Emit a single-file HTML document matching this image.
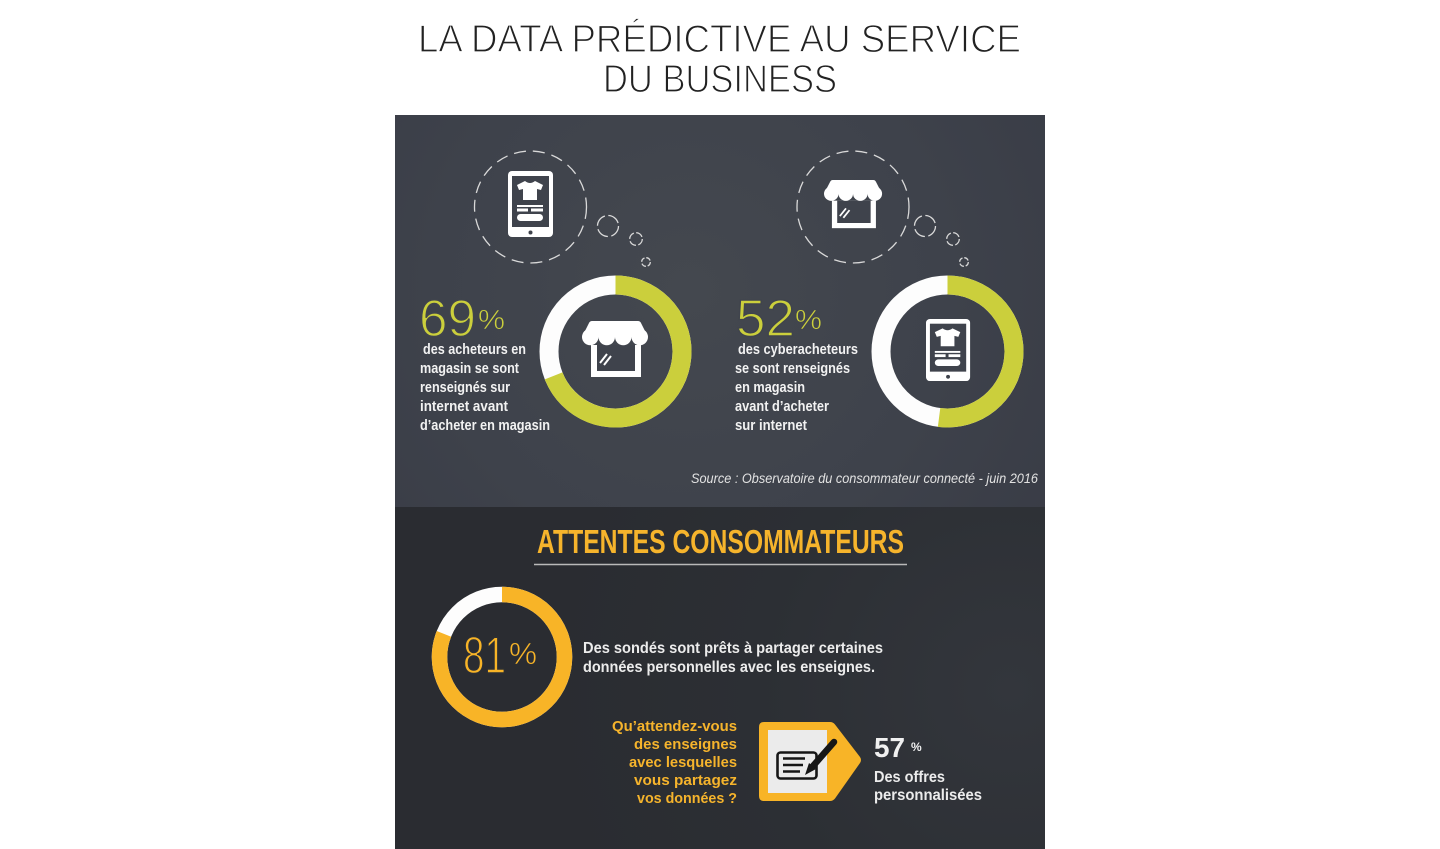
<!DOCTYPE html>
<html>
<head>
<meta charset="utf-8">
<style>
  html,body{margin:0;padding:0;background:#ffffff;}
  body{width:1440px;height:849px;overflow:hidden;}
  svg{display:block;}
  .b{font-family:"Liberation Sans",sans-serif;font-weight:bold;}
  .r{font-family:"Liberation Sans",sans-serif;font-weight:normal;}
</style>
</head>
<body>
<svg width="1440" height="849" viewBox="0 0 1440 849" xmlns="http://www.w3.org/2000/svg">
  <defs>
    <radialGradient id="gt" cx="690" cy="290" r="430" gradientUnits="userSpaceOnUse">
      <stop offset="0" stop-color="#44484f"/>
      <stop offset="0.6" stop-color="#3e424b"/>
      <stop offset="1" stop-color="#393c46"/>
    </radialGradient>
    <radialGradient id="gb" cx="1010" cy="690" r="460" gradientUnits="userSpaceOnUse">
      <stop offset="0" stop-color="#33363c"/>
      <stop offset="0.55" stop-color="#2c2f34"/>
      <stop offset="1" stop-color="#2a2c31"/>
    </radialGradient>

    <g id="tablet">
      <rect x="0" y="0" width="45" height="66" rx="4" fill="#ffffff"/>
      <rect x="4" y="5" width="37" height="51" fill="#3f434c"/>
      <circle cx="22.5" cy="61.5" r="2" fill="#3f434c"/>
      <path d="M17,10 L9,14 L11,19 L15,18 L15,29 L29,29 L29,18 L33,19 L35,14 L27,10 Q22,14 17,10 Z" fill="#ffffff"/>
      <rect x="9" y="34" width="26" height="2" fill="#ffffff"/>
      <rect x="9" y="37.5" width="11" height="3" fill="#ffffff"/>
      <rect x="23" y="37.5" width="12" height="3" fill="#ffffff"/>
      <rect x="9" y="43" width="26" height="7" rx="3.5" fill="#ffffff"/>
    </g>

    <g id="store">
      <rect x="9" y="24" width="50" height="32" fill="#ffffff"/>
      <rect x="15" y="24" width="38" height="26" fill="#3f434c"/>
      <path d="M10,0 L56,0 Q58,0 59,2 L66,16 L0,16 L7,2 Q8,0 10,0 Z" fill="#ffffff"/>
      <circle cx="8.25" cy="16" r="8.25" fill="#ffffff"/>
      <circle cx="24.75" cy="16" r="8.25" fill="#ffffff"/>
      <circle cx="41.25" cy="16" r="8.25" fill="#ffffff"/>
      <circle cx="57.75" cy="16" r="8.25" fill="#ffffff"/>
      <line x1="18" y1="42" x2="25" y2="33" stroke="#ffffff" stroke-width="2"/>
      <line x1="22" y1="44" x2="29" y2="35" stroke="#ffffff" stroke-width="2"/>
    </g>
  </defs>

  <!-- Title -->
  <text class="r" x="418" y="52" font-size="38.5" fill="#222222" stroke="#ffffff" stroke-width="1.2" textLength="603" lengthAdjust="spacingAndGlyphs">LA DATA PRÉDICTIVE AU SERVICE</text>
  <text class="r" x="603" y="92" font-size="38.5" fill="#222222" stroke="#ffffff" stroke-width="1.2" textLength="234" lengthAdjust="spacingAndGlyphs">DU BUSINESS</text>

  <!-- Panels -->
  <rect x="395" y="115" width="650" height="392" fill="url(#gt)"/>
  <rect x="395" y="507" width="650" height="342" fill="url(#gb)"/>

  <!-- LEFT GROUP -->
  <circle cx="530.5" cy="207" r="56" fill="none" stroke="#d9d9d9" stroke-width="1.3" stroke-dasharray="12 7"/>
  <circle cx="608" cy="226" r="10.5" fill="none" stroke="#d9d9d9" stroke-width="1.3" stroke-dasharray="13 3.5"/>
  <circle cx="636" cy="239" r="6.3" fill="none" stroke="#d9d9d9" stroke-width="1.3" stroke-dasharray="7.5 2.4"/>
  <circle cx="646" cy="262" r="4.3" fill="none" stroke="#d9d9d9" stroke-width="1.3" stroke-dasharray="5 1.8"/>
  <use href="#tablet" transform="translate(508,171)"/>

  <circle cx="615.5" cy="351.5" r="66.5" fill="none" stroke="#fdfdfd" stroke-width="19"/>
  <circle cx="615.5" cy="351.5" r="66.5" fill="none" stroke="#cbcf3c" stroke-width="19" stroke-dasharray="288.3 500" transform="rotate(-90 615.5 351.5)"/>
  <use href="#store" transform="translate(582,321)"/>

  <text class="r" x="419" y="336" font-size="52" fill="#cbcf3c" stroke="#40444d" stroke-width="1.4" textLength="57" lengthAdjust="spacingAndGlyphs">69</text>
  <text class="r" x="478" y="329" font-size="28" fill="#cbcf3c" stroke="#40444d" stroke-width="0.6" textLength="27" lengthAdjust="spacingAndGlyphs">%</text>

  <g class="b" font-size="14.5" fill="#f2f2f2">
    <text x="423" y="354" textLength="103" lengthAdjust="spacingAndGlyphs">des acheteurs en</text>
    <text x="420" y="373" textLength="99" lengthAdjust="spacingAndGlyphs">magasin se sont</text>
    <text x="420" y="392" textLength="90" lengthAdjust="spacingAndGlyphs">renseignés sur</text>
    <text x="420" y="411" textLength="88" lengthAdjust="spacingAndGlyphs">internet avant</text>
    <text x="420" y="430" textLength="130" lengthAdjust="spacingAndGlyphs">d’acheter en magasin</text>
  </g>

  <!-- RIGHT GROUP -->
  <circle cx="853" cy="207" r="56" fill="none" stroke="#d9d9d9" stroke-width="1.3" stroke-dasharray="12 7"/>
  <circle cx="925" cy="226" r="10.5" fill="none" stroke="#d9d9d9" stroke-width="1.3" stroke-dasharray="13 3.5"/>
  <circle cx="953" cy="239" r="6.3" fill="none" stroke="#d9d9d9" stroke-width="1.3" stroke-dasharray="7.5 2.4"/>
  <circle cx="964" cy="262" r="4.3" fill="none" stroke="#d9d9d9" stroke-width="1.3" stroke-dasharray="5 1.8"/>
  <use href="#store" transform="translate(824,180) scale(0.88,0.86)"/>

  <circle cx="947.5" cy="351.5" r="66.5" fill="none" stroke="#fdfdfd" stroke-width="19"/>
  <circle cx="947.5" cy="351.5" r="66.5" fill="none" stroke="#cbcf3c" stroke-width="19" stroke-dasharray="217.3 500" transform="rotate(-90 947.5 351.5)"/>
  <use href="#tablet" transform="translate(926,319) scale(0.98,0.94)"/>

  <text class="r" x="736" y="336" font-size="52" fill="#cbcf3c" stroke="#40444d" stroke-width="1.4" textLength="59" lengthAdjust="spacingAndGlyphs">52</text>
  <text class="r" x="795" y="329" font-size="28" fill="#cbcf3c" stroke="#40444d" stroke-width="0.6" textLength="27" lengthAdjust="spacingAndGlyphs">%</text>

  <g class="b" font-size="14.5" fill="#f2f2f2">
    <text x="738" y="354" textLength="120" lengthAdjust="spacingAndGlyphs">des cyberacheteurs</text>
    <text x="735" y="373" textLength="115" lengthAdjust="spacingAndGlyphs">se sont renseignés</text>
    <text x="735" y="392" textLength="70" lengthAdjust="spacingAndGlyphs">en magasin</text>
    <text x="735" y="411" textLength="94" lengthAdjust="spacingAndGlyphs">avant d’acheter</text>
    <text x="735" y="430" textLength="72" lengthAdjust="spacingAndGlyphs">sur internet</text>
  </g>

  <!-- Source -->
  <text x="691" y="483" font-family="Liberation Sans, sans-serif" font-style="italic" font-size="13.5" fill="#e2e2e2" textLength="347" lengthAdjust="spacingAndGlyphs">Source : Observatoire du consommateur connecté - juin 2016</text>

  <!-- BOTTOM SECTION -->
  <text class="b" x="537" y="553" font-size="33" fill="#f6b42c" textLength="367" lengthAdjust="spacingAndGlyphs">ATTENTES CONSOMMATEURS</text>
  <line x1="534" y1="564.5" x2="907" y2="564.5" stroke="#b9b9b9" stroke-width="1.5"/>

  <circle cx="502" cy="657" r="62.5" fill="none" stroke="#fdfdfd" stroke-width="15.5"/>
  <circle cx="502" cy="657" r="62.5" fill="none" stroke="#f8b427" stroke-width="15.5" stroke-dasharray="318.1 500" transform="rotate(-90 502 657)"/>
  <text class="r" x="463" y="673" font-size="52" fill="#f8b427" stroke="#2c2f34" stroke-width="1.4" textLength="43" lengthAdjust="spacingAndGlyphs">81</text>
  <text class="r" x="509" y="664" font-size="31" fill="#f8b427" stroke="#2c2f34" stroke-width="0.6" textLength="28" lengthAdjust="spacingAndGlyphs">%</text>

  <g class="b" font-size="16" fill="#ececec">
    <text x="583" y="653" textLength="300" lengthAdjust="spacingAndGlyphs">Des sondés sont prêts à partager certaines</text>
    <text x="583" y="672" textLength="292" lengthAdjust="spacingAndGlyphs">données personnelles avec les enseignes.</text>
  </g>

  <g class="b" font-size="15" fill="#f6b42c">
    <text x="612" y="731" textLength="125" lengthAdjust="spacingAndGlyphs">Qu’attendez-vous</text>
    <text x="634" y="749" textLength="103" lengthAdjust="spacingAndGlyphs">des enseignes</text>
    <text x="629" y="767" textLength="108" lengthAdjust="spacingAndGlyphs">avec lesquelles</text>
    <text x="634" y="785" textLength="103" lengthAdjust="spacingAndGlyphs">vous partagez</text>
    <text x="637" y="803" textLength="100" lengthAdjust="spacingAndGlyphs">vos données ?</text>
  </g>

  <!-- tag icon -->
  <path d="M764,722 L830,722 Q833,722 835,724.5 L860,757 Q862,760 860,763 L835,798.5 Q833,801 830,801 L764,801 Q759,801 759,796 L759,727 Q759,722 764,722 Z" fill="#f8b427"/>
  <rect x="768" y="730" width="59" height="63" fill="#ebebeb"/>
  <rect x="777.5" y="752.5" width="39" height="26" rx="3" fill="none" stroke="#161616" stroke-width="2.6"/>
  <line x1="783" y1="758.5" x2="805" y2="758.5" stroke="#161616" stroke-width="2.4"/>
  <line x1="783" y1="765" x2="803" y2="765" stroke="#161616" stroke-width="2.4"/>
  <line x1="783" y1="771.5" x2="800" y2="771.5" stroke="#161616" stroke-width="2.4"/>
  <line x1="834" y1="742" x2="813" y2="766" stroke="#161616" stroke-width="6.5" stroke-linecap="round"/>
  <polygon points="809,763 816,769 805,775" fill="#161616"/>

  <text class="b" x="874" y="757" font-size="28" fill="#f0f0f0" textLength="31" lengthAdjust="spacingAndGlyphs">57</text>
  <text class="b" x="911" y="751" font-size="12" fill="#f0f0f0">%</text>
  <g class="b" font-size="16" fill="#ececec">
    <text x="874" y="782" textLength="71" lengthAdjust="spacingAndGlyphs">Des offres</text>
    <text x="874" y="800" textLength="108" lengthAdjust="spacingAndGlyphs">personnalisées</text>
  </g>
</svg>
</body>
</html>
